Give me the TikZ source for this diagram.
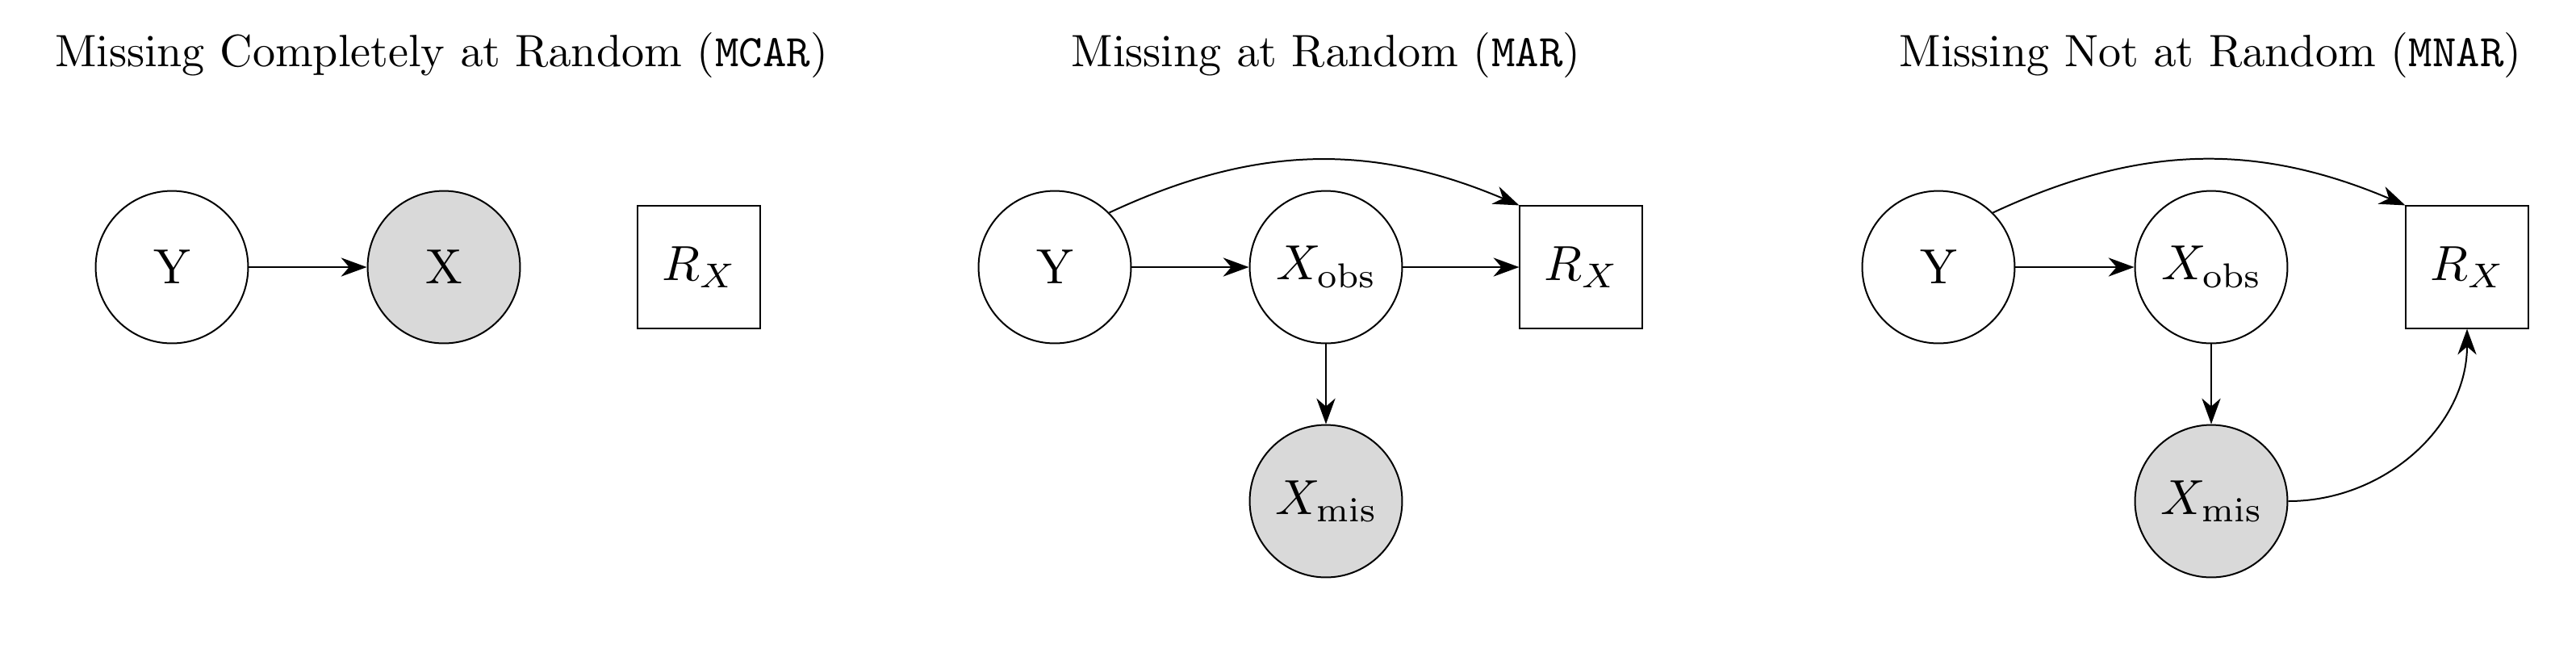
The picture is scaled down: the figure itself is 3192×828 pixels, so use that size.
\documentclass[tikz,border=0pt]{standalone}
\usetikzlibrary{arrows.meta}
\DeclareFontShape{OT1}{cmr}{m}{n}{<-13.5> cmr7 <13.5-> cmr10}{}
\DeclareFontShape{OT1}{cmtt}{m}{n}{<-> cmtt10}{}
\DeclareFontShape{OML}{cmm}{m}{it}{<-13.5> cmmi7 <13.5-> cmmi10}{}
\newcommand{\cmrom}{\fontencoding{OT1}\fontfamily{cmr}\selectfont}
\newcommand{\cmtype}[1]{{\fontencoding{OT1}\fontfamily{cmtt}\selectfont #1}}
\begin{document}
\begin{tikzpicture}[x=0.3012pt,y=-0.3012pt,
  var/.style={circle,draw,line width=0.6pt,minimum size=2cm,inner sep=0pt,
    font=\fontsize{18.4}{22}\cmrom},
  seen/.style={var,fill=black!15},
  ind/.style={rectangle,draw,line width=0.6pt,minimum size=1.6cm,inner sep=0pt,
    font=\fontsize{18.4}{22}\cmrom},
  ttl/.style={anchor=base,inner sep=0pt,font=\fontsize{16.9}{20}\cmrom},
  arr/.style={-{Stealth[length=9.6pt,width=7pt,inset=3pt]},line width=0.6pt}]
\useasboundingbox (0,0) rectangle (3192,828);
% Panel 1
\node[ttl] (t1) at (547,82) {Missing Completely at Random (\cmtype{MCAR})};
\node[var] (y1) at (213,331) {Y};
\node[seen] (x1) at (550,331) {X};
\node[ind] (r1) at (866,331) {$R_X$};
\draw[arr] (y1) -- (x1);
% Panel 2
\node[ttl] (t2) at (1643,82) {Missing at Random (\cmtype{MAR})};
\node[var] (y2) at (1307,331) {Y};
\node[var] (xo2) at (1643,331) {$X_\mathrm{obs}$};
\node[ind] (r2) at (1959,331) {$R_X$};
\node[seen] (xm2) at (1643,621) {$X_\mathrm{mis}$};
\draw[arr] (y2) -- (xo2);
\draw[arr] (xo2) -- (r2);
\draw[arr] (xo2) -- (xm2);
\draw[arr] (y2.north east) to[bend left=24] (r2.north west);
% Panel 3
\node[ttl] (t3) at (2739,82) {Missing Not at Random (\cmtype{MNAR})};
\node[var] (y3) at (2402,331) {Y};
\node[var] (xo3) at (2740,331) {$X_\mathrm{obs}$};
\node[ind] (r3) at (3057,331) {$R_X$};
\node[seen] (xm3) at (2740,621) {$X_\mathrm{mis}$};
\draw[arr] (y3) -- (xo3);
\draw[arr] (xo3) -- (xm3);
\draw[arr] (y3.north east) to[bend left=24] (r3.north west);
\draw[arr] (xm3.east) to[out=0,in=-90] (r3.south);
\end{tikzpicture}
\end{document}
